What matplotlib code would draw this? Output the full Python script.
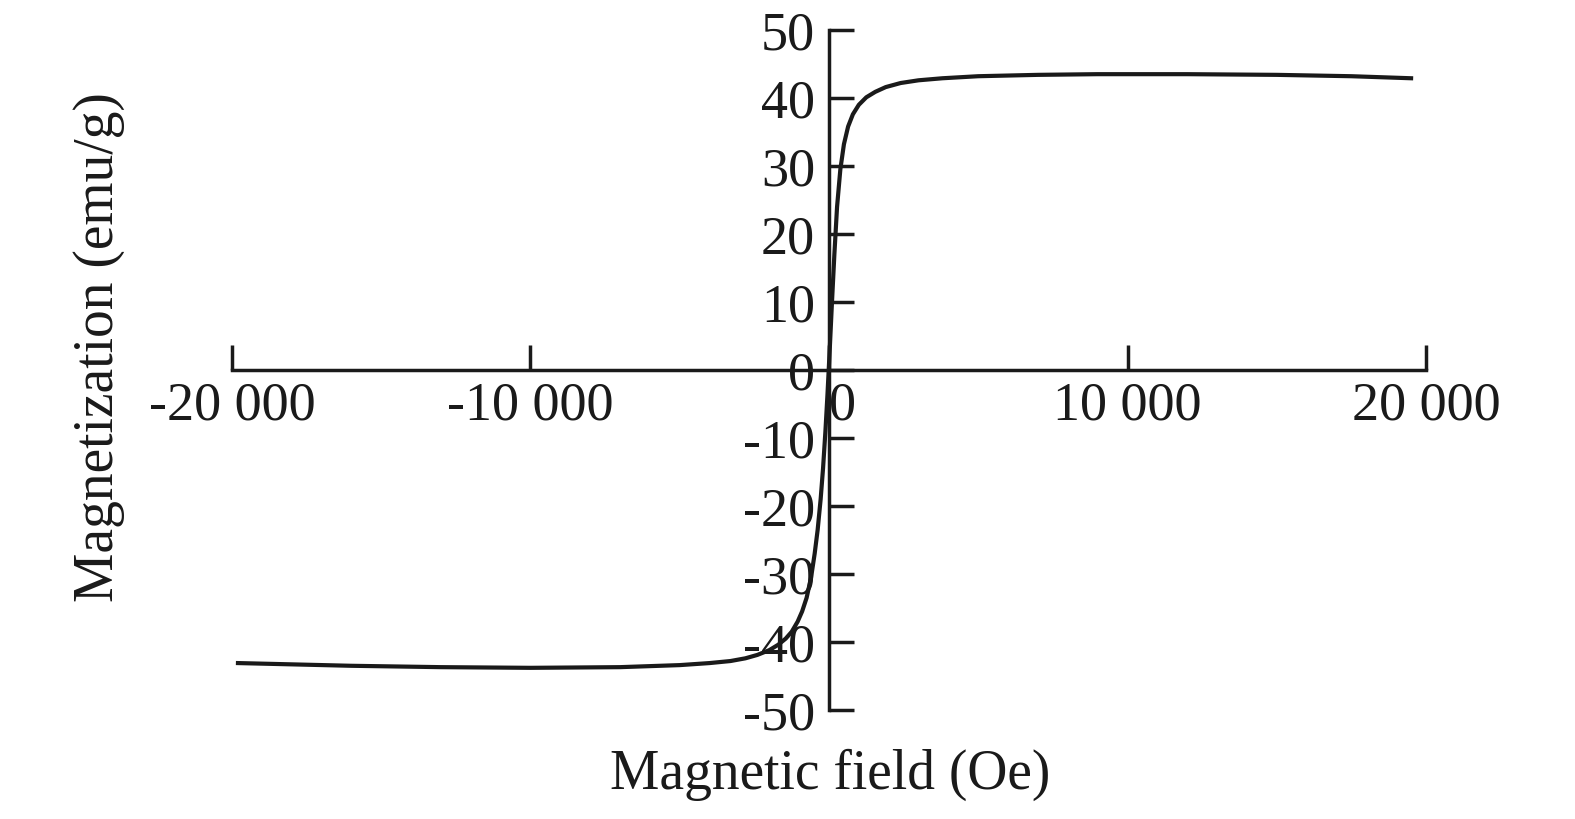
import matplotlib.pyplot as plt

plt.rcParams['font.family'] = ['Liberation Serif', 'DejaVu Serif']
plt.rcParams['axes.unicode_minus'] = False

# field (Oe) and magnetization (emu/g)
field = [-19800, -16000, -13000, -10000, -7000, -5000, -4000, -3300, -2800, -2400,
         -2000, -1700, -1450, -1250, -1050, -900, -750, -600, -480, -380, -280,
         -200, -120, -50, 30, 100, 180, 270, 380, 500, 640, 800, 1000, 1250,
         1550, 1900, 2400, 3000, 3800, 5000, 7000, 9000, 12000, 15000, 17500, 19500]
magnet = [-43.1, -43.5, -43.7, -43.8, -43.7, -43.4, -43.1, -42.8, -42.4, -41.9,
          -41.2, -40.4, -39.5, -38.5, -37.0, -35.5, -33.5, -30.5, -27.0, -23.5,
          -19.0, -14.5, -9.0, -3.5, 3.5, 10.0, 17.0, 24.0, 29.5, 33.2, 35.8, 37.6,
          39.0, 40.1, 40.9, 41.6, 42.2, 42.6, 42.9, 43.2, 43.4, 43.5, 43.5,
          43.4, 43.2, 42.9]

fig = plt.figure(figsize=(15.75, 8.19), dpi=100)
ax = fig.add_axes([0.1473, 0.1331, 0.7581, 0.8303])
ax.plot(field, magnet, color='#1a1a1a', lw=3)

ax.set_xlim(-20000, 20000)
ax.set_ylim(-50, 50)
ax.spines['left'].set_position(('data', 0))
ax.spines['bottom'].set_position(('data', 0))
ax.spines['right'].set_visible(False)
ax.spines['top'].set_visible(False)
for s in ('left', 'bottom'):
    ax.spines[s].set_linewidth(2.5)
    ax.spines[s].set_color('#1a1a1a')

xt = [-20000, -10000, 0, 10000, 20000]
ax.set_xticks(xt)
ax.set_xticklabels(['-20 000', '-10 000', '0', '10 000', '20 000'])
ax.set_yticks(range(-50, 51, 10))
ax.tick_params(direction='in', length=18, width=2.5, labelsize=39, color='#1a1a1a',
               labelcolor='#1a1a1a')
ax.tick_params(axis='x', pad=8)
ax.tick_params(axis='y', pad=10)
for lbl in ax.get_xticklabels():
    if lbl.get_text() == '0':
        lbl.set_horizontalalignment('left')

fig.text(0.063, 0.576, 'Magnetization (emu/g)', rotation=90, ha='center', va='center',
         fontsize=40, color='#1a1a1a')
fig.text(0.527, 0.054, 'Magnetic field (Oe)', ha='center', va='center',
         fontsize=40, color='#1a1a1a')

fig.savefig('out.png', dpi=100)
